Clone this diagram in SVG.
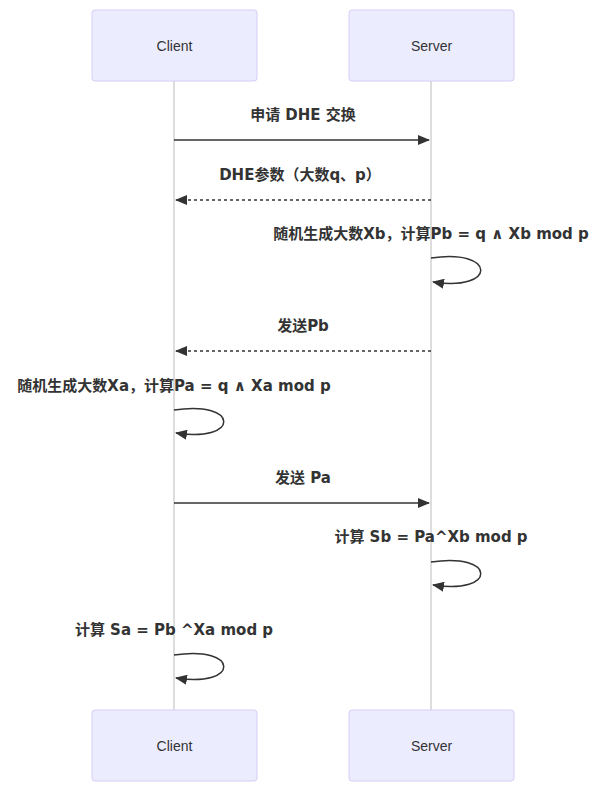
<svg xmlns="http://www.w3.org/2000/svg" width="614" height="787" viewBox="0 0 614 787">
<style>
.actor rect{fill:#ECECFF;stroke:#d6cdf5;stroke-width:1}
.actor text{font-family:"Liberation Sans","Noto Sans CJK SC",sans-serif;font-size:14px;fill:#333;text-anchor:middle;dominant-baseline:central}
.life{stroke:#bbb;stroke-width:1}
.msg{stroke:#333;stroke-width:1.5;fill:none}
.dash{stroke-dasharray:3,3}
.lbl{font-family:"DejaVu Sans","Noto Sans CJK SC",sans-serif;font-size:15px;font-weight:bold;fill:#333;text-anchor:middle}
</style>
<defs>
<marker id="arr" viewBox="0 0 12 10" refX="11" refY="5" markerWidth="12" markerHeight="10" orient="auto" markerUnits="userSpaceOnUse"><path d="M0,0 L12,5 L0,10 z" fill="#333"/></marker>
</defs>
<line class="life" x1="174" y1="81" x2="174" y2="710"/>
<line class="life" x1="431" y1="81" x2="431" y2="710"/>
<g id="client-top" class="actor"><rect x="92" y="10" width="165" height="71" rx="3"/><text x="174.5" y="46">Client</text></g>
<g id="server-top" class="actor"><rect x="349" y="10" width="165" height="71" rx="3"/><text x="431.5" y="46">Server</text></g>
<g id="client-bottom" class="actor"><rect x="92" y="710" width="165" height="71" rx="3"/><text x="174.5" y="746">Client</text></g>
<g id="server-bottom" class="actor"><rect x="349" y="710" width="165" height="71" rx="3"/><text x="431.5" y="746">Server</text></g>
<g id="connectors">
<line class="msg" x1="174" y1="140" x2="429" y2="140" marker-end="url(#arr)"/>
<line class="msg dash" x1="431" y1="200" x2="176" y2="200" marker-end="url(#arr)"/>
<path class="msg" d="M431,258 C497,248 497,292 433,282" marker-end="url(#arr)"/>
<line class="msg dash" x1="431" y1="351" x2="176" y2="351" marker-end="url(#arr)"/>
<path class="msg" d="M174,410 C240,400 240,443 176,433" marker-end="url(#arr)"/>
<line class="msg" x1="174" y1="503" x2="429" y2="503" marker-end="url(#arr)"/>
<path class="msg" d="M431,562 C497,552 497,595 433,585" marker-end="url(#arr)"/>
<path class="msg" d="M174,655 C240,645 240,688 176,678" marker-end="url(#arr)"/>
</g>
<g id="labels">
<text class="lbl" x="303" y="120">申请 DHE 交换</text>
<text class="lbl" x="300" y="180">DHE参数（大数q、p）</text>
<text class="lbl" x="431" y="239">随机生成大数Xb，计算Pb = q ∧ Xb mod p</text>
<text class="lbl" x="303" y="331">发送Pb</text>
<text class="lbl" x="174" y="391">随机生成大数Xa，计算Pa = q ∧ Xa mod p</text>
<text class="lbl" x="303" y="483">发送 Pa</text>
<text class="lbl" x="431" y="542">计算 Sb = Pa^Xb mod p</text>
<text class="lbl" x="174" y="635">计算 Sa = Pb ^Xa mod p</text>
</g>
</svg>
